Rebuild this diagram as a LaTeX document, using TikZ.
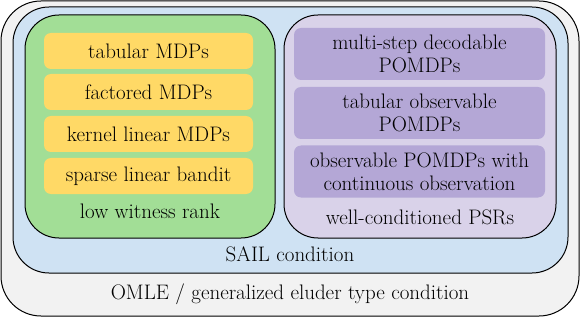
\documentclass[tikz,border=0pt]{standalone}
\definecolor{outerfill}{HTML}{F2F2F2}
\definecolor{bluefill}{HTML}{CFE2F3}
\definecolor{greenfill}{HTML}{A2DE96}
\definecolor{yellowfill}{HTML}{FFD966}
\definecolor{lpurple}{HTML}{D9D2E9}
\definecolor{dpurple}{HTML}{B4A7D6}
\begin{document}
\begin{tikzpicture}[x=1pt,y=-1pt,
  every node/.style={font=\fontsize{21}{23}\selectfont},
  region/.style={draw=black, line width=1pt, inner sep=0pt, rounded corners=#1},
  item/.style={inner sep=0pt, rounded corners=7pt, align=center},
  lbl/.style={inner sep=0pt}
]
\useasboundingbox (0,0) rectangle (581,318);
\node[region=40pt, fill=outerfill, minimum width=578pt, minimum height=315pt] (outer) at (290,158.5) {};
\node[region=36pt, fill=bluefill, minimum width=555pt, minimum height=266pt] (blue) at (290.5,140) {};
\node[region=34pt, fill=greenfill, minimum width=250pt, minimum height=223pt] (green) at (150,126.5) {};
\node[region=34pt, fill=lpurple, minimum width=272pt, minimum height=223pt] (purple) at (420,126.5) {};

\node[item, fill=yellowfill, minimum width=209pt, minimum height=36pt] (y1) at (148.5,51) {tabular MDPs};
\node[item, fill=yellowfill, minimum width=209pt, minimum height=36pt] (y2) at (148.5,92) {factored MDPs};
\node[item, fill=yellowfill, minimum width=209pt, minimum height=36pt] (y3) at (148.5,134) {kernel linear MDPs};
\node[item, fill=yellowfill, minimum width=209pt, minimum height=36pt] (y4) at (148.5,176) {sparse linear bandit};

\node[item, fill=dpurple, minimum width=251pt, minimum height=52pt] (p1) at (419.5,54) {multi-step decodable\\POMDPs};
\node[item, fill=dpurple, minimum width=251pt, minimum height=52pt] (p2) at (419.5,113) {tabular observable\\POMDPs};
\node[item, fill=dpurple, minimum width=251pt, minimum height=52pt] (p3) at (419.5,171.5) {observable POMDPs with\\continuous observation};

\node[lbl] (lg) at (150,211) {low witness rank};
\node[lbl] (lp) at (420,217) {well-conditioned PSRs};
\node[lbl] (lb) at (290,254) {SAIL condition};
\node[lbl] (lo) at (290,294) {OMLE / generalized eluder type condition};
\end{tikzpicture}
\end{document}
